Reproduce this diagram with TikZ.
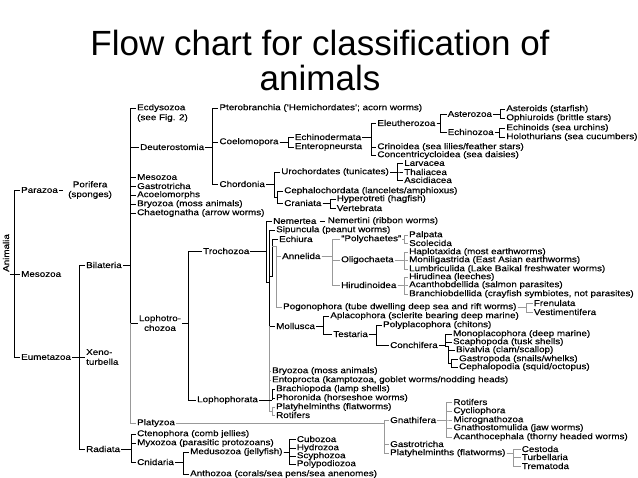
\documentclass[tikz,border=0pt]{standalone}
\usepackage{fontspec}
\setmainfont{Liberation Sans}
\newfontfamily\treefont[FakeStretch=1.17,FakeBold=0.25]{Liberation Sans}
\usetikzlibrary{positioning}
\definecolor{treegray}{gray}{0.6}
% bracket from a parent to its children, relative or at a fixed column
\newcommand\fork[4][link]{%
  \foreach \c in {#4} {\draw[#1] (#2.east) -- ++(#3,0) |- (\c.west);}}
\newcommand\forkat[4][link]{%
  \foreach \c in {#4} {\draw[#1] (#2.east) -- (#3 |- #2.east) |- (\c.west);}}

\begin{document}
\begin{tikzpicture}[x=1pt,y=-1pt,
    taxon/.style={anchor=west,inner xsep=1pt,inner ysep=0.5pt,
      font={\treefont\fontsize{8.4}{9.8}\selectfont}},
    headline/.style={anchor=base,font={\fontsize{35}{35}\selectfont}},
    link/.style={line width=0.9pt},
    glink/.style={line width=0.6pt,draw=treegray}]
  \useasboundingbox (0,0) rectangle (638,478);

  % title
  \node[headline] (title1) at (320,56) {Flow chart for classification of};
  \node[headline] (title2) at (320,91) {animals};

  % trunk columns
  \coordinate (trA) at (14,0);
  \coordinate (trE) at (79,0);
  \coordinate (trB) at (130,0);
  \coordinate (trR) at (131,0);
  \coordinate (trL) at (188,0);
  \coordinate (trP) at (384,0);
  \coordinate (tc1) at (266,0);
  \coordinate (tc2) at (269,0);
  \coordinate (tc3) at (272,0);
  \coordinate (tc4) at (276,0);
  \coordinate (anV) at (332,0);
  \coordinate (anK) at (340,0);
  \coordinate (subV) at (404,0);
  \coordinate (subK) at (408,0);

  % animalia
  \node[taxon,rotate=90,anchor=center] (anim) at (6,253) {Animalia};
  \node[taxon] (para) at (20,190) {Parazoa};
  \node[taxon,align=center,right=8pt of para] (pori) {Porifera\\(sponges)};
  \node[taxon] (mesA) at (20,274) {Mesozoa};
  \node[taxon] (eume) at (20,357) {Eumetazoa};
  \draw[link] (para.west) -| (trA |- eume.west) -- (eume.west);
  \draw[link] (anim.south |- mesA.west) -- (mesA.west);
  \draw[link,shorten >=4pt] (para.east) -- (pori.west);

  % eumetazoa
  \node[taxon] (bila) at (85,265) {Bilateria};
  \node[taxon,align=left] (xeno) at (85,357) {Xeno-\\turbella};
  \node[taxon] (radi) at (85,449) {Radiata};
  \draw[link] (eume.east) -- (trE |- eume.east);
  \draw[link] (bila.west) -| (trE |- radi.west) -- (radi.west);
  \draw[link] (xeno.west -| trE) -- (xeno.west);

  % bilateria
  \node[taxon] (ecdy) at (136,108) {Ecdysozoa};
  \node[taxon] (ecfig) at (136,118) {(see Fig. 2)};
  \node[taxon] (deut) at (139,147) {Deuterostomia};
  \foreach \n/\y/\t in {mesB/177/Mesozoa,gasB/186/Gastrotricha,acoe/195/Acoelomorphs,
      bryB/204/{Bryozoa (moss animals)},chae/213/{Chaetognatha (arrow worms)}}
    \node[taxon] (\n) at (136,\y) {\t};
  \node[taxon,align=center,anchor=center] (loph) at (160,323) {Lophotro-\\chozoa};
  \node[taxon] (plaz) at (136,423) {Platyzoa};
  \draw[link] (bila.east) -- (trB |- bila.east);
  \draw[link] (ecdy.west) -| (trB |- loph.west) -- (loph.west);
  \draw[glink] (trB |- loph.west) |- (plaz.west);
  \foreach \n in {deut,mesB,gasB,acoe,bryB,chae}
    \draw[link] (\n.west -| trB) -- (\n.west);

  % radiata
  \node[taxon] (cten) at (136,434) {Ctenophora (comb jellies)};
  \node[taxon] (myxo) at (136,443) {Myxozoa (parasitic protozoans)};
  \node[taxon] (cnid) at (136,462) {Cnidaria};
  \draw[link] (radi.east) -- (trR |- radi.east);
  \draw[link] (cten.west) -| (trR |- cnid.west) -- (cnid.west);
  \draw[link] (myxo.west -| trR) -- (myxo.west);
  \coordinate (cnidK) at ([xshift=14]cnid.east);
  \node[taxon] (medu) at (cnidK |- 0,452) {Medusozoa (jellyfish)};
  \node[taxon] (anth) at (cnidK |- 0,474) {Anthozoa (corals/sea pens/sea anenomes)};
  \fork{cnid}{8}{medu,anth}
  \coordinate (meduK) at ([xshift=12]medu.east);
  \foreach \n/\y/\t in {cubo/439/Cubozoa,hydr/448/Hydrozoa,scyp/456/Scyphozoa,pody/464/Polypodiozoa}
    \node[taxon] (\n) at (meduK |- 0,\y) {\t};
  \fork{medu}{6}{cubo,hydr,scyp,pody}

  % deuterostomia
  \coordinate (deutK) at ([xshift=13]deut.east);
  \node[taxon] (pter) at (deutK |- 0,108) {Pterobranchia (‘Hemichordates’; acorn worms)};
  \node[taxon] (coel) at (deutK |- 0,142) {Coelomopora};
  \node[taxon] (chor) at (deutK |- 0,184) {Chordonia};
  \fork{deut}{7}{pter,coel,chor}
  \coordinate (coelK) at ([xshift=14]coel.east);
  \node[taxon] (echd) at (coelK |- 0,137) {Echinodermata};
  \node[taxon] (entp) at (coelK |- 0,147) {Enteropneursta};
  \fork{coel}{9}{echd,entp}
  \coordinate (echdK) at ([xshift=14]echd.east);
  \foreach \n/\y/\t in {eleu/123/Eleutherozoa,crin/147/{Crinoidea (sea lilies/feather stars)},
      ccyc/155/{Concentricycloidea (sea daisies)}}
    \node[taxon] (\n) at (echdK |- 0,\y) {\t};
  \fork{echd}{9}{eleu,crin,ccyc}
  \coordinate (eleuK) at ([xshift=10]eleu.east);
  \node[taxon] (astz) at (eleuK |- 0,114) {Asterozoa};
  \node[taxon] (echz) at (eleuK |- 0,132) {Echinozoa};
  \fork{eleu}{4}{astz,echz}
  \coordinate (astzK) at ([xshift=12]astz.east);
  \node[taxon] (astd) at (astzK |- 0,109) {Asteroids (starfish)};
  \node[taxon] (ophi) at (astzK |- 0,118) {Ophiuroids (brittle stars)};
  \node[taxon] (echi) at (astzK |- 0,128) {Echinoids (sea urchins)};
  \node[taxon] (holo) at (astzK |- 0,137) {Holothurians (sea cucumbers)};
  \fork{astz}{7}{astd,ophi}
  \fork{echz}{5}{echi,holo}

  % chordonia
  \coordinate (chorV) at ([xshift=8]chor.east);
  \coordinate (chorW) at ([xshift=11]chor.east);
  \coordinate (chorK) at ([xshift=14]chor.east);
  \coordinate (chorL) at ([xshift=17]chor.east);
  \node[taxon] (uroc) at (chorK |- 0,172) {Urochordates (tunicates)};
  \node[taxon] (ceph) at (chorL |- 0,191) {Cephalochordata (lancelets/amphioxus)};
  \node[taxon] (cran) at (chorL |- 0,203) {Craniata};
  \draw[link] (chor.east) -- (chorV);
  \draw[link] (uroc.west) -| (chorV |- 0,197) -- (chorW |- 0,197);
  \draw[link] (ceph.west) -| (chorW |- cran.west) -- (cran.west);
  \coordinate (urocK) at ([xshift=13]uroc.east);
  \foreach \n/\y/\t in {larv/163/Larvacea,thal/172/Thaliacea,asci/180/Ascidiacea}
    \node[taxon] (\n) at (urocK |- 0,\y) {\t};
  \fork{uroc}{7}{larv,thal,asci}
  \coordinate (cranK) at ([xshift=13]cran.east);
  \node[taxon] (hype) at (cranK |- 0,199) {Hyperotreti (hagfish)};
  \node[taxon] (vert) at (cranK |- 0,208) {Vertebrata};
  \fork{cran}{8}{hype,vert}

  % lophotrochozoa
  \node[taxon] (troc) at (202,251) {Trochozoa};
  \node[taxon] (lpho) at (196,400) {Lophophorata};
  \draw[link] (loph.east) -- (trL |- loph.east);
  \draw[link] (troc.west) -| (trL |- lpho.west) -- (lpho.west);

  % trochozoa
  \node[taxon] (neme) at (272,221) {Nemertea};
  \node[taxon,right=9pt of neme] (nemi) {Nemertini (ribbon worms)};
  \node[taxon] (sipu) at (275,230) {Sipuncula (peanut worms)};
  \node[taxon] (echu) at (278,239) {Echiura};
  \node[taxon] (anne) at (281,256) {Annelida};
  \node[taxon] (pogo) at (282,307) {Pogonophora (tube dwelling deep sea and rift worms)};
  \node[taxon] (moll) at (275,326) {Mollusca};
  \draw[link,shorten <=2pt,shorten >=2pt] (neme.east) -- (nemi.west);
  \draw[link] (troc.east) -- (tc1 |- troc.east);
  \draw[link] (neme.west) -| (tc1 |- 0,282) -- (tc2 |- 0,282);
  \draw[link] (sipu.west) -| (tc2 |- moll.west) -- (moll.west);
  \draw[link] (echu.west) -| (tc3 |- 0,276) -- (tc2 |- 0,276);
  \draw[glink] (tc3 |- 0,246) -- (tc4 |- 0,246) |- (pogo.west);
  \draw[glink] (anne.west -| tc4) -- (anne.west);

  % annelida
  \node[taxon] (pcha) at (anK |- 0,239) {“Polychaetes”};
  \node[taxon] (olig) at (anK |- 0,260) {Oligochaeta};
  \node[taxon] (hiru) at (anK |- 0,285) {Hirudinoidea};
  \forkat[glink]{anne}{anV}{pcha,olig,hiru}
  \foreach \n/\y/\t in {palp/235/Palpata,scol/243/Scolecida,hapl/252/{Haplotaxida (most earthworms)},
      moni/260/{Moniligastrida (East Asian earthworms)},
      lumb/269/{Lumbriculida (Lake Baikal freshwater worms)},
      hirn/277/{Hirudinea (leeches)},acan/285/{Acanthobdellida (salmon parasites)},
      bran/294/{Branchiobdellida (crayfish symbiotes, not parasites)}}
    \node[taxon] (\n) at (subK |- 0,\y) {\t};
  \forkat[glink]{pcha}{subV}{palp,scol}
  \forkat[glink]{olig}{subV}{hapl,moni,lumb}
  \forkat[glink]{hiru}{subV}{hirn,acan,bran}

  % pogonophora
  \coordinate (pogoK) at ([xshift=15]pogo.east);
  \node[taxon] (fren) at (pogoK |- 0,303) {Frenulata};
  \node[taxon] (vest) at (pogoK |- 0,312) {Vestimentifera};
  \fork[glink]{pogo}{9}{fren,vest}

  % mollusca
  \coordinate (mollK) at ([xshift=13]moll.east);
  \coordinate (mollL) at ([xshift=16]moll.east);
  \node[taxon] (apla) at (mollK |- 0,316) {Aplacophora (sclerite bearing deep marine)};
  \node[taxon] (test) at (mollL |- 0,334) {Testaria};
  \fork{moll}{7}{apla,test}
  \coordinate (testK) at ([xshift=13]test.east);
  \coordinate (testL) at ([xshift=20]test.east);
  \node[taxon] (pola) at (testK |- 0,325) {Polyplacophora (chitons)};
  \node[taxon] (chif) at (testL |- 0,345) {Conchifera};
  \fork{test}{7}{pola,chif}

  % conchifera
  \coordinate (chV1) at ([xshift=7]chif.east);
  \coordinate (chV2) at ([xshift=10]chif.east);
  \coordinate (chV3) at ([xshift=13]chif.east);
  \coordinate (chK1) at ([xshift=13]chif.east);
  \coordinate (chK2) at ([xshift=16]chif.east);
  \coordinate (chK3) at ([xshift=19]chif.east);
  \node[taxon] (mono) at (chK1 |- 0,334) {Monoplacophora (deep marine)};
  \node[taxon] (scap) at (chK1 |- 0,342) {Scaphopoda (tusk shells)};
  \node[taxon] (biva) at (chK2 |- 0,350) {Bivalvia (clam/scallop)};
  \node[taxon] (gapo) at (chK3 |- 0,359) {Gastropoda (snails/whelks)};
  \node[taxon] (cepo) at (chK3 |- 0,367) {Cephalopodia (squid/octopus)};
  \draw[link] (chif.east) -- (chV1);
  \draw[link] (mono.west) -| (chV1 |- 0,346) -- (chV2 |- 0,346) -- (chV2 |- 0,363) -- (chV3 |- 0,363);
  \draw[link] (scap.west) -- (chV1 |- scap.west);
  \draw[link] (biva.west) -- (chV2 |- biva.west);
  \draw[link] (gapo.west) -| (chV3 |- cepo.west) -- (cepo.west);

  % lophophorata
  \node[taxon] (bryL) at (271,371) {Bryozoa (moss animals)};
  \node[taxon] (ento) at (271,380) {Entoprocta (kamptozoa, goblet worms/nodding heads)};
  \node[taxon] (brac) at (275,389) {Brachiopoda (lamp shells)};
  \node[taxon] (phor) at (275,398) {Phoronida (horseshoe worms)};
  \node[taxon] (plaL) at (275,407) {Platyhelminths (flatworms)};
  \node[taxon] (rotL) at (275,415) {Rotifers};
  \draw[glink] (tc2 |- moll.west) |- (tc3 |- 0,411);
  \foreach \n in {bryL,ento}
    \draw[glink] (\n.west -| tc2) -- (\n.west);
  \draw[glink] (plaL.west) -| (tc3 |- rotL.west) -- (rotL.west);
  \draw[link] (lpho.east) -- (tc3 |- lpho.east);
  \draw[link] (brac.west) -| (tc3 |- lpho.east);
  \draw[link] (phor.west) -- (tc3 |- phor.west);

  % platyzoa
  \node[taxon] (gnat) at (389,420) {Gnathifera};
  \node[taxon] (gasR) at (389,444) {Gastrotricha};
  \node[taxon] (plaR) at (389,453) {Platyhelminths (flatworms)};
  \draw[glink] (plaz.east) -- (trP |- plaz.east);
  \draw[glink] (gnat.west) -| (trP |- plaR.west) -- (plaR.west);
  \draw[glink] (gasR.west -| trP) -- (gasR.west);
  \coordinate (gnatK) at ([xshift=15]gnat.east);
  \foreach \n/\y/\t in {rotR/402/Rotifers,cycl/411/Cycliophora,micr/420/Micrognathozoa,
      gnst/428/{Gnathostomulida (jaw worms)},acth/437/{Acanthocephala (thorny headed worms)}}
    \node[taxon] (\n) at (gnatK |- 0,\y) {\t};
  \fork[glink]{gnat}{9}{rotR,cycl,micr,gnst,acth}
  \coordinate (plaRK) at ([xshift=14]plaR.east);
  \foreach \n/\y/\t in {cest/449/Cestoda,turb/457/Turbellaria,trem/466/Trematoda}
    \node[taxon] (\n) at (plaRK |- 0,\y) {\t};
  \fork[glink]{plaR}{7}{cest,turb,trem}
\end{tikzpicture}
\end{document}
